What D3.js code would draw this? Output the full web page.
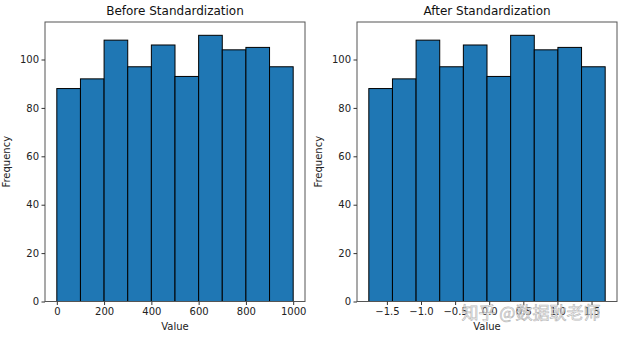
<!DOCTYPE html>
<html><head><meta charset="utf-8">
<script src="https://cdn.jsdelivr.net/npm/d3@7"></script>
<style>body{margin:0;background:#fff}svg{display:block}text{font-family:"DejaVu Sans",sans-serif}</style>
</head><body>
<svg id="c" width="624" height="338"></svg>
<script>
// Data
const counts = [88, 92, 108, 97, 106, 93, 110, 104, 105, 97];
const beforeRange = [0, 1000];
const afterRange = [-1.765, 1.700];
const titles = ["Before Standardization", "After Standardization"];
const beforeTicks = [0, 200, 400, 600, 800, 1000];
const afterTicks = [-1.5, -1.0, -0.5, 0.0, 0.5, 1.0, 1.5];
const yTicks = [0, 20, 40, 60, 80, 100];
const watermark = "知乎 @数据耿老师";

(function () {
const svg = d3.select("#c");
const plotTop = 22, plotBottom = 301.5;
const panels = [
  {left: 45, right: 305, range: beforeRange, ticks: beforeTicks, fmt: d3.format("d"), title: titles[0]},
  {left: 357, right: 617, range: afterRange, ticks: afterTicks, fmt: d => d.toFixed(1).replace("-", "\u2212"), title: titles[1]}
];
const ymax = d3.max(counts) * 1.05;

panels.forEach(p => {
  const [a, b] = p.range;
  const pad = (b - a) * 0.05;
  const x = d3.scaleLinear().domain([a - pad, b + pad]).range([p.left, p.right]);
  const y = d3.scaleLinear().domain([0, ymax]).range([plotBottom, plotTop]);
  const w = (b - a) / counts.length;
  const bins = counts.map((c, i) => ({x0: a + i * w, x1: a + (i + 1) * w, c}));
  const g = svg.append("g");
  g.selectAll("rect").data(bins).join("rect")
    .attr("x", d => x(d.x0)).attr("width", d => x(d.x1) - x(d.x0))
    .attr("y", d => y(d.c)).attr("height", d => y(0) - y(d.c))
    .attr("fill", "#1f77b4").attr("stroke", "#000").attr("stroke-width", 1);
  g.append("rect").attr("x", p.left).attr("y", plotTop).attr("width", p.right - p.left).attr("height", plotBottom - plotTop)
    .attr("fill", "none").attr("stroke", "#555").attr("stroke-width", 1);
  const xa = g.append("g").attr("transform", `translate(0,${plotBottom})`)
    .call(d3.axisBottom(x).tickValues(p.ticks).tickFormat(p.fmt).tickSize(3.5).tickPadding(2.5));
  const ya = g.append("g").attr("transform", `translate(${p.left},0)`)
    .call(d3.axisLeft(y).tickValues(yTicks).tickSize(3.5).tickPadding(2.5));
  [xa, ya].forEach(ax => {
    ax.select(".domain").remove();
    ax.selectAll("line").attr("stroke", "#333");
    ax.selectAll("text").attr("fill", "#222").style("font-size", "10px");
  });
  g.append("text").attr("x", (p.left + p.right) / 2).attr("y", 15).attr("text-anchor", "middle")
    .style("font-size", "12px").attr("fill", "#111").text(p.title);
  g.append("text").attr("x", (p.left + p.right) / 2).attr("y", 330).attr("text-anchor", "middle")
    .style("font-size", "10px").attr("fill", "#222").text("Value");
  g.append("text").attr("transform", `translate(${p.left - 35},${(plotTop + plotBottom) / 2}) rotate(-90)`)
    .attr("text-anchor", "middle").style("font-size", "10px").attr("fill", "#222").text("Frequency");
});

svg.append("text").attr("x", 531).attr("y", 319).attr("text-anchor", "middle")
  .style("font-family", "'Noto Sans CJK SC',sans-serif").style("font-size", "17px")
  .attr("fill", "#fff").attr("fill-opacity", 0.7).attr("stroke", "#999").attr("stroke-width", 0.7)
  .attr("stroke-opacity", 0.7).text(watermark);
})();
</script>
</body></html>
